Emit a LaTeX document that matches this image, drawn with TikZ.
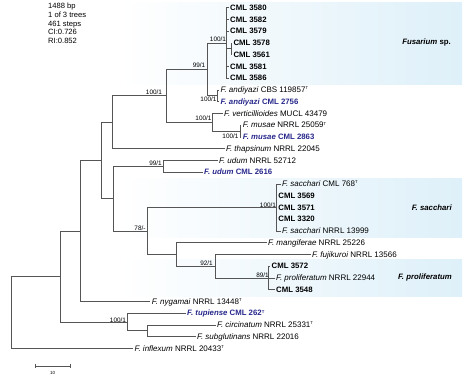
\documentclass[tikz,border=0pt]{standalone}
\usepackage{fontspec}
\setmainfont{Liberation Sans}
\definecolor{strainblue}{RGB}{40,40,140}
\definecolor{boxblue}{RGB}{222,240,249}
\definecolor{treegray}{RGB}{85,85,85}
\newcommand{\rowy}[1]{7.6+11.75*(#1)}
\newcommand{\tp}{\raisebox{2.8pt}{\fontsize{4.2}{4}\selectfont T}}
\tikzset{
  leaf/.style={anchor=west, inner xsep=1.5pt, inner ysep=0pt, text height=5.6pt, text depth=0pt, font=\fontsize{8}{8}\selectfont},
  strain/.style={leaf, font=\fontsize{7.8}{8}\selectfont\bfseries},
  bluestrain/.style={leaf, text=strainblue, font=\fontsize{7.8}{8}\selectfont\bfseries},
  boot/.style={inner sep=0pt, font=\fontsize{6.4}{7}\selectfont},
  grp/.style={anchor=east, inner sep=0pt, font=\fontsize{7.8}{8}\selectfont\bfseries},
  branch/.style={draw=treegray, line width=0.7pt},
  cladebox/.style={left color=white, right color=boxblue, draw=none},
}
\begin{document}
\begin{tikzpicture}[x=1pt,y=-1pt]
\useasboundingbox (0,0) rectangle (474,383);
% clade backgrounds
\fill[cladebox] (120,2) rectangle (462,84);
\fill[cladebox] (120,178) rectangle (462,237);
\fill[cladebox] (120,259) rectangle (462,296);
\node[grp] (gfus) at (451,{\rowy{3}}) {\textit{Fusarium} sp.};
\node[grp] (gsac) at (452,{\rowy{17}}) {\textit{F. sacchari}};
\node[grp] (gpro) at (452,{\rowy{23}}) {\textit{F. proliferatum}};
% info
\node[anchor=north west, inner sep=0pt, align=left, font=\fontsize{7.6}{8.8}\selectfont] (info) at (48,2.8)
  {1488 bp\\1 of 3 trees\\461 steps\\CI:0.726\\RI:0.852};
% internal nodes
\coordinate (K)  at (226.7,{\rowy{3}});
\coordinate (K2) at (231.2,{\rowy{3.5}});
\coordinate (L)  at (216.9,{\rowy{7.5}});
\coordinate (I)  at (207,{\rowy{5.25}});
\coordinate (M)  at (240,{\rowy{10.5}});
\coordinate (J)  at (212.5,{\rowy{9.75}});
\coordinate (H)  at (166,{\rowy{7.5}});
\coordinate (F)  at (112.7,{\rowy{9.75}});
\coordinate (N)  at (163.3,{\rowy{13.5}});
\coordinate (P)  at (276.7,{\rowy{17}});
\coordinate (T)  at (268.3,{\rowy{23}});
\coordinate (S)  at (215,{\rowy{22}});
\coordinate (Q)  at (176.7,{\rowy{21}});
\coordinate (O)  at (147.3,{\rowy{19}});
\coordinate (G)  at (113.3,{\rowy{16.25}});
\coordinate (E)  at (101,{\rowy{13}});
\coordinate (B)  at (80.7,{\rowy{19}});
\coordinate (D)  at (147.7,{\rowy{27.5}});
\coordinate (C)  at (127.7,{\rowy{26.75}});
\coordinate (A)  at (60,{\rowy{22.875}});
\coordinate (R)  at (11.7,{\rowy{22.875}});
% leaves
\node[strain] (c3580) at (228.5,{\rowy{0}}) {CML 3580};
\node[strain] (c3582) at (228.5,{\rowy{1}}) {CML 3582};
\node[strain] (c3579) at (228.5,{\rowy{2}}) {CML 3579};
\node[strain] (c3578) at (231.8,{\rowy{3}}) {CML 3578};
\node[strain] (c3561) at (231.8,{\rowy{4}}) {CML 3561};
\node[strain] (c3581) at (228.5,{\rowy{5}}) {CML 3581};
\node[strain] (c3586) at (228.5,{\rowy{6}}) {CML 3586};
\node[leaf] (andCBS) at (219,{\rowy{7}}) {\textit{F. andiyazi} CBS 119857\tp};
\node[bluestrain] (andCML) at (219,{\rowy{8}}) {\textit{F. andiyazi} CML 2756};
\node[leaf] (vert) at (222.5,{\rowy{9}}) {\textit{F. verticillioides} MUCL 43479};
\node[leaf] (musN) at (241.2,{\rowy{10}}) {\textit{F. musae} NRRL 25059\tp};
\node[bluestrain] (musC) at (241.2,{\rowy{11}}) {\textit{F. musae} CML 2863};
\node[leaf] (thap) at (224.5,{\rowy{12}}) {\textit{F. thapsinum} NRRL 22045};
\node[leaf] (udN) at (217.5,{\rowy{13}}) {\textit{F. udum} NRRL 52712};
\node[bluestrain] (udC) at (202.5,{\rowy{14}}) {\textit{F. udum} CML 2616};
\node[leaf] (sac768) at (280.5,{\rowy{15}}) {\textit{F. sacchari} CML 768\tp};
\node[strain] (c3569) at (276.7,{\rowy{16}}) {CML 3569};
\node[strain] (c3571) at (276.7,{\rowy{17}}) {CML 3571};
\node[strain] (c3320) at (276.7,{\rowy{18}}) {CML 3320};
\node[leaf] (sacN) at (280.5,{\rowy{19}}) {\textit{F. sacchari} NRRL 13999};
\node[leaf] (mang) at (266.5,{\rowy{20}}) {\textit{F. mangiferae} NRRL 25226};
\node[leaf] (fuji) at (310.5,{\rowy{21}}) {\textit{F. fujikuroi} NRRL 13566};
\node[strain] (c3572) at (270,{\rowy{22}}) {CML 3572};
\node[leaf] (prol) at (274.5,{\rowy{23}}) {\textit{F. proliferatum} NRRL 22944};
\node[strain] (c3548) at (274.5,{\rowy{24}}) {CML 3548};
\node[leaf] (nyg) at (150.2,{\rowy{25}}) {\textit{F. nygamai} NRRL 13448\tp};
\node[bluestrain] (tup) at (185.5,{\rowy{26}}) {\textit{F. tupiense} CML 262\tp};
\node[leaf] (circ) at (215.5,{\rowy{27}}) {\textit{F. circinatum} NRRL 25331\tp};
\node[leaf] (subg) at (195.5,{\rowy{28}}) {\textit{F. subglutinans} NRRL 22016};
\node[leaf] (infl) at (133,{\rowy{29}}) {\textit{F. inflexum} NRRL 20433\tp};
% branches
\draw[branch] (R) |- (A);  \draw[branch] (R) |- (infl.west);
\draw[branch] (A) |- (B);  \draw[branch] (A) |- (C);
\draw[branch] (C) |- (tup.west); \draw[branch] (C) |- (D);
\draw[branch] (D) |- (circ.west); \draw[branch] (D) |- (subg.west);
\draw[branch] (B) |- (E);  \draw[branch] (B) |- (nyg.west);
\draw[branch] (E) |- (F);  \draw[branch] (E) |- (G);
\draw[branch] (F) |- (H);  \draw[branch] (F) |- (thap.west);
\draw[branch] (H) |- (I);  \draw[branch] (H) |- (J);
\draw[branch] (I) |- (K);  \draw[branch] (I) |- (L);
\draw[branch] (K) |- (c3580.west); \draw[branch] (K) |- (c3582.west);
\draw[branch] (K) |- (c3579.west); \draw[branch] (K) |- (K2);
\draw[branch] (K) |- (c3581.west); \draw[branch] (K) |- (c3586.west);
\draw[branch] (K2) |- (c3578.west); \draw[branch] (K2) |- (c3561.west);
\draw[branch] (L) |- (andCBS.west); \draw[branch] (L) |- (andCML.west);
\draw[branch] (J) |- (vert.west); \draw[branch] (J) |- (M);
\draw[branch] (M) |- (musN.west); \draw[branch] (M) |- (musC.west);
\draw[branch] (G) |- (N);  \draw[branch] (G) |- (O);
\draw[branch] (N) |- (udN.west); \draw[branch] (N) |- (udC.west);
\draw[branch] (O) |- (P);  \draw[branch] (O) |- (Q);
\draw[branch] (P) |- (sac768.west); \draw[branch] (P) |- (c3569.west);
\draw[branch] (P) |- (c3571.west); \draw[branch] (P) |- (c3320.west);
\draw[branch] (P) |- (sacN.west);
\draw[branch] (Q) |- (mang.west); \draw[branch] (Q) |- (S);
\draw[branch] (S) |- (fuji.west); \draw[branch] (S) |- (T);
\draw[branch] (T) |- (c3572.west); \draw[branch] (T) |- (prol.west);
\draw[branch] (T) |- (c3548.west);
% support values
\node[boot] (bs1) at (218,39.5) {100/1};
\node[boot] (bs2) at (199,65.5) {99/1};
\node[boot] (bs3) at (154,92.5) {100/1};
\node[boot] (bs4) at (208.5,99.5) {100/1};
\node[boot] (bs5) at (203.5,118.5) {100/1};
\node[boot] (bs6) at (230.5,136) {100/1};
\node[boot] (bs7) at (155.5,163) {99/1};
\node[boot] (bs8) at (268,205) {100/1};
\node[boot] (bs9) at (140,228) {78/-};
\node[boot] (bs10) at (206.5,263) {92/1};
\node[boot] (bs11) at (262.5,275) {89/1};
\node[boot] (bs12) at (118,320) {100/1};
% scale bar
\coordinate (sb1) at (35,366);
\coordinate (sb2) at (70,366);
\draw[treegray, line width=0.6pt] (sb1) -- (sb2);
\draw[treegray, line width=0.6pt] ([yshift=-1.8pt]sb1) -- ([yshift=1.8pt]sb1);
\draw[treegray, line width=0.6pt] ([yshift=-1.8pt]sb2) -- ([yshift=1.8pt]sb2);
\node[inner sep=0pt, font=\fontsize{4.5}{5}\selectfont] (sblab) at (52.7,372.5) {10};
\end{tikzpicture}
\end{document}
